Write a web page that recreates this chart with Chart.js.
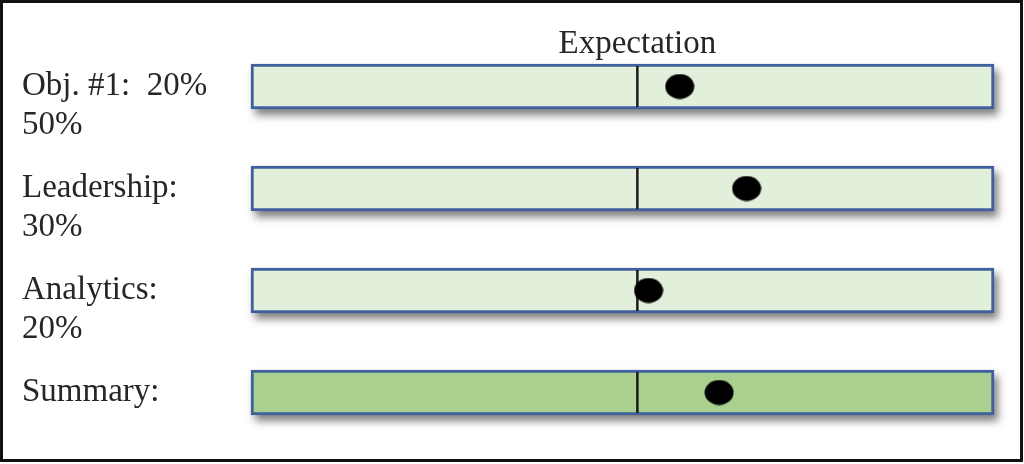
<!DOCTYPE html>
<html>
<head>
<meta charset="utf-8">
<script src="https://cdn.jsdelivr.net/npm/chart.js@4/dist/chart.umd.min.js"></script>
<style>
  html, body { margin: 0; padding: 0; background: #fff; }
  #wrap { width: 1024px; height: 464px; }
</style>
</head>
<body>
<div id="wrap"><canvas id="scoreChart" width="1024" height="464"></canvas></div>
<script>
// Data
const categories = ['Obj. #1', 'Leadership', 'Analytics', 'Summary'];
const labelLines = [
    ['Obj. #1:  20%', '50%'],
    ['Leadership:', '30%'],
    ['Analytics:', '20%'],
    ['Summary:']
];
const rangeMin = 0;
const rangeMax = 100;
const expectation = 52;
const scores = [57.7, 66.7, 53.5, 63.0];
const expectationLabel = 'Expectation';

// Warna
const barBorder = '#3f5f9e';
const barFill = ['#e2efda', '#e2efda', '#e2efda', '#a9d08e'];
const textColor = '#262626';
const labelFont = '33px "Liberation Serif", "DejaVu Serif", serif';

// Titik elips (agak lebih lebar dari tinggi)
function makeDot() {
    const c = document.createElement('canvas');
    c.width = 30;
    c.height = 26;
    const g = c.getContext('2d');
    g.fillStyle = '#000';
    g.beginPath();
    g.ellipse(15, 13, 14.5, 12.5, 0, 0, Math.PI * 2);
    g.fill();
    return c;
}

// Plugin: bayangan bar, garis ekspektasi, teks label, bingkai
const decorPlugin = {
    id: 'decor',
    beforeDraw(chart) {
        const ctx = chart.ctx;
        ctx.save();
        ctx.fillStyle = '#fff';
        ctx.fillRect(0, 0, chart.width, chart.height);
        ctx.restore();
    },
    beforeDatasetDraw(chart, args) {
        if (args.meta.type !== 'bar') return;
        // bayangan digambar sendiri karena bar di-clip oleh Chart.js
        const ctx = chart.ctx;
        ctx.save();
        ctx.shadowColor = 'rgba(0, 0, 0, 0.5)';
        ctx.shadowBlur = 8;
        ctx.shadowOffsetX = 4;
        ctx.shadowOffsetY = 6;
        ctx.fillStyle = '#fff';
        args.meta.data.forEach(function(bar) {
            const p = bar.getProps(['x', 'y', 'base', 'height'], true);
            const left = Math.min(p.x, p.base);
            const w = Math.abs(p.x - p.base);
            ctx.fillRect(left, p.y - p.height / 2, w, p.height);
        });
        ctx.restore();
    },
    afterDatasetDraw(chart, args) {
        if (args.meta.type !== 'bar') return;
        const ctx = chart.ctx;
        // garis ekspektasi di tiap bar
        const xPos = chart.scales.x.getPixelForValue(expectation);
        ctx.save();
        ctx.strokeStyle = '#1a1a1a';
        ctx.lineWidth = 2.5;
        args.meta.data.forEach(function(bar) {
            const half = bar.height / 2;
            ctx.beginPath();
            ctx.moveTo(xPos, bar.y - half + 2);
            ctx.lineTo(xPos, bar.y + half - 2);
            ctx.stroke();
        });
        ctx.restore();
    },
    afterDraw(chart) {
        const ctx = chart.ctx;
        const yScale = chart.scales.y;
        const xScale = chart.scales.x;
        ctx.save();
        ctx.fillStyle = textColor;
        ctx.font = labelFont;
        ctx.textBaseline = 'alphabetic';

        // label kategori di kiri
        ctx.textAlign = 'left';
        labelLines.forEach(function(lines, i) {
            const yc = yScale.getPixelForValue(i);
            lines.forEach(function(line, k) {
                ctx.fillText(line, 22, yc + 8 + k * 39);
            });
        });

        // judul ekspektasi di atas garis
        ctx.textAlign = 'center';
        const firstTop = yScale.getPixelForValue(0) - 22;
        ctx.fillText(expectationLabel, xScale.getPixelForValue(expectation), firstTop - 12);

        // bingkai luar
        ctx.strokeStyle = '#111';
        ctx.lineWidth = 3;
        ctx.strokeRect(1.5, 1.5, 1020, 459);
        ctx.restore();
    }
};

document.addEventListener('DOMContentLoaded', function() {
    const ctx = document.getElementById('scoreChart');

    new Chart(ctx.getContext('2d'), {
        data: {
            labels: categories,
            datasets: [{
                type: 'bar',
                label: 'Range',
                data: categories.map(function() { return [rangeMin, rangeMax]; }),
                backgroundColor: barFill,
                borderColor: barBorder,
                borderWidth: 3,
                borderSkipped: false,
                barThickness: 45,
                clip: false,
                order: 2
            }, {
                type: 'line',
                label: 'Score',
                data: scores.map(function(v, i) { return { x: v, y: i }; }),
                showLine: false,
                pointStyle: makeDot(),
                pointRadius: 14,
                order: 1
            }]
        },
        options: {
            indexAxis: 'y',
            responsive: false,
            animation: false,
            devicePixelRatio: 1,
            layout: {
                padding: { left: 251, right: 30, top: 35.5, bottom: 20.5 }
            },
            plugins: {
                legend: { display: false },
                tooltip: { enabled: false }
            },
            scales: {
                x: {
                    type: 'linear',
                    min: rangeMin,
                    max: rangeMax,
                    display: false
                },
                y: {
                    type: 'category',
                    offset: true,
                    display: false
                }
            }
        },
        plugins: [decorPlugin]
    });
});
</script>
</body>
</html>
